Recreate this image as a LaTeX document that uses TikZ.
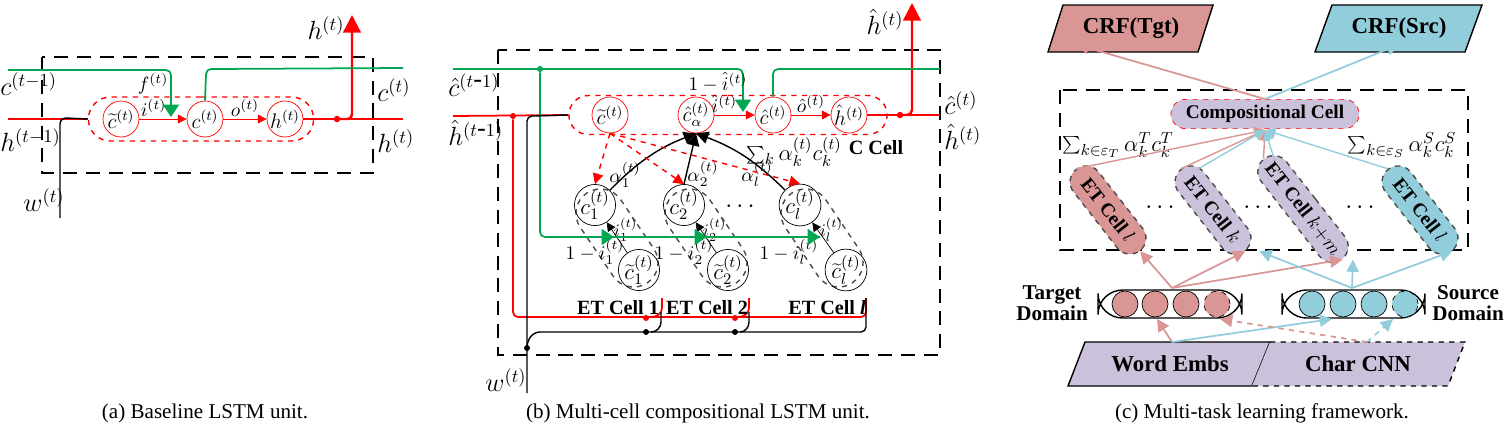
\documentclass[tikz,border=0pt]{standalone}
\usepackage{fontspec}
\setmainfont{Liberation Serif}
\usepackage{fix-cm}
\usetikzlibrary{arrows.meta,shapes.misc,shapes.geometric}
\definecolor{gr}{HTML}{00A651}
\definecolor{salm}{HTML}{D99694}
\definecolor{cya}{HTML}{92CDDC}
\definecolor{lav}{HTML}{CCC1DA}
\begin{document}
\begin{tikzpicture}[x=0.02cm,y=-0.02cm,
  box/.style={black,line width=1.1pt,dash pattern=on 8pt off 5pt},
  rc/.style={circle,draw=red,minimum size=0.72cm,inner sep=0pt,font=\fontsize{12}{13}\selectfont},
  bc/.style={circle,draw=black,minimum size=0.8cm,inner sep=0pt,font=\fontsize{13}{14}\selectfont},
  rl/.style={red,line width=1pt},
  gl/.style={gr,line width=1pt},
  ra/.style={red,-{Triangle[length=5pt,width=5pt]}},
  ga/.style={gr,line width=1pt,-{Triangle[length=7pt,width=9pt]}},
  dot/.style={circle,fill,inner sep=1.3pt},
  pill/.style={rounded rectangle,draw=red,dashed,thick},
  etp/.style={rounded rectangle,draw=black!70,dashed,thick,minimum height=0.98cm},
  lab/.style={font=\fontsize{15}{16}\selectfont},
  sm/.style={font=\fontsize{11}{12}\selectfont},
  captext/.style={font=\fontsize{12}{14}\selectfont},
  bf/.style={font=\bfseries\fontsize{11.5}{12}\selectfont},
  ca/.style={line width=1pt,-{Triangle[length=7pt,width=7pt]}},
  cet/.style={rounded rectangle,draw=black!70,dashed,thick,minimum width=2.3cm,minimum height=0.64cm,rotate=-52,font=\bfseries\fontsize{11}{12}\selectfont},
  ptxt/.style={font=\bfseries\fontsize{13}{14}\selectfont}
]
\useasboundingbox (0,0) rectangle (1504,437);
% ================= (a)
\draw[box] (42,57) rectangle (373,173);
\node[pill,minimum width=4.74cm,minimum height=0.88cm] (pa) at (201,119) {};
\node[rc] (ct) at (121,119) {$\widetilde{c}^{(t)}$};
\node[rc] (cc) at (205,119) {$c^{(t)}$};
\node[rc] (hh) at (285,119) {$h^{(t)}$};
\draw[rl] (8,119) -- (pa.west);
\draw[ra] (ct) -- node[above,black,pos=0.3,inner sep=1pt,sm]{$i^{(t)}$} (cc);
\draw[ra] (cc) -- node[above,black,inner sep=1pt,sm]{$o^{(t)}$} (hh);
\coordinate (ad) at (337,119);
\draw[rl] (hh) -- (403,119);
\node[dot,red] at (ad) {};
\draw[red,line width=1.4pt,-{Triangle[length=10pt,width=10pt]}] (ad) -- (348,119) to[out=0,in=-90] (352,114) -- (352,15);
\node[lab] (ho) at (326,28) {$h^{(t)}$};
\coordinate (ga1) at (171,117);
\draw[ga] (8,70) -- (166,70) to[out=0,in=90] (171,75) -- (ga1);
\draw[gl] (cc.north) -- (206,74) to[out=90,in=180] (211,69) -- (403,68);
\draw[thick] (60,218) -- (60,124) to[out=90,in=180] (66,118) -- (pa.west);
\node[lab,anchor=west,inner sep=0pt] at (0,84) {$c^{(t-1)}$};
\node[lab,anchor=west,inner sep=0pt] at (0,140) {$h^{(t-1)}$};
\node[lab,anchor=west,inner sep=0pt] at (377,90) {$c^{(t)}$};
\node[lab,anchor=west,inner sep=0pt] at (377,141) {$h^{(t)}$};
\node[lab] at (44,200) {$w^{(t)}$};
\node[sm] at (153,84) {$f^{(t)}$};
\node[captext] at (205,413) {(a) Baseline LSTM unit.};
% ================= (b)
\draw[box] (498,50) rectangle (940,355);
\node[pill,minimum width=6.6cm,minimum height=0.78cm] (pb) at (728,115) {};
\node[rc] (bct) at (610,115) {$\widetilde{c}^{(t)}$};
\node[rc] (bca) at (696,115) {$\hat{c}^{(t)}_{\alpha}$};
\node[rc] (bch) at (773,115) {$\hat{c}^{(t)}$};
\node[rc] (bhh) at (849,115) {$\hat{h}^{(t)}$};
\draw[rl] (453,116) -- (pb.west);
\draw[ra] (bca) -- node[above,black,pos=0.25,inner sep=1pt,sm]{$\hat{i}^{(t)}$} (bch);
\draw[ra] (bch) -- node[above,black,inner sep=1pt,sm]{$\hat{o}^{(t)}$} (bhh);
\draw[rl] (bhh) -- (940,115);
\node[dot,red] at (900,115) {};
\draw[red,line width=1.4pt,-{Triangle[length=10pt,width=10pt]}] (900,115) -- (907,115) to[out=0,in=-90] (912,110) -- (912,3);
\node[lab] at (885,22) {$\hat{h}^{(t)}$};
\draw[ga] (453,69) -- (738,69) to[out=0,in=90] (743,74) -- (743,112);
\draw[gl] (bch.north) -- (773,74) to[out=90,in=180] (778,69) -- (940,69);
\node[dot,gr,inner sep=1.2pt] (gd) at (540,69) {};
\node[lab,anchor=west,inner sep=0pt] at (448,85) {$\hat{c}^{(t\mbox{-}1)}$};
\node[lab,anchor=west,inner sep=0pt] at (448,133) {$\hat{h}^{(t\mbox{-}1)}$};
\node[lab,anchor=west,inner sep=0pt] at (944,103) {$\hat{c}^{(t)}$};
\node[lab,anchor=west,inner sep=0pt] at (944,137) {$\hat{h}^{(t)}$};
\node[sm] at (718,82) {$1-\hat{i}^{(t)}$};
\node[font=\fontsize{13}{14}\selectfont] at (794,152) {$\sum_k \alpha^{(t)}_k c^{(t)}_k$};
\node[bf] at (876,148) {C Cell};
% ET cells
\foreach \x in {595,684,800}{
  \node[etp,rotate=-56,minimum width=2.4cm] at (\x+22,238) {};
}
\node[bc] (e1) at (595,205) {$c^{(t)}_1$};
\node[bc] (e2) at (684,205) {$c^{(t)}_2$};
\node[bc] (e3) at (800,205) {$c^{(t)}_l$};
\node[bc] (t1) at (639,270) {$\widetilde{c}^{(t)}_1$};
\node[bc] (t2) at (728,270) {$\widetilde{c}^{(t)}_2$};
\node[bc] (t3) at (846,270) {$\widetilde{c}^{(t)}_l$};
\node[font=\Large] at (740,207) {$\cdots$};
\draw[-{Triangle[length=5pt,width=5pt]}] (t1) -- node[right,inner sep=1pt,pos=0.75]{$i^{(t)}_1$} (e1);
\draw[-{Triangle[length=5pt,width=5pt]}] (t2) -- node[right,inner sep=1pt,pos=0.75]{$i^{(t)}_2$} (e2);
\draw[-{Triangle[length=5pt,width=5pt]}] (t3) -- node[right,inner sep=1pt,pos=0.75]{$i^{(t)}_l$} (e3);
\node[sm] at (595,252) {$1-i^{(t)}_1$};
\node[sm] at (684,252) {$1-i^{(t)}_2$};
\node[sm] at (789,252) {$1-i^{(t)}_l$};
% green to ET
\coordinate (g1) at (614,237);\coordinate (g2) at (707,237);\coordinate (g3) at (820,237);
\draw[gl] (gd) -- (540,232) to[out=-90,in=180] (545,237) -- (g3);
\foreach \g in {g1,g2,g3}{\draw[ga] ([xshift=-8]\g) -- (\g);}
% alpha arrows
\draw[thick,-{Triangle[length=7pt,width=7pt]}] (e1.north east) to[bend left=12] (bca.south);
\draw[thick,-{Triangle[length=7pt,width=7pt]}] (e2.north) -- (bca.south);
\draw[thick,-{Triangle[length=7pt,width=7pt]}] (e3.north west) to[bend right=12] (bca.south);
\node[sm] at (625,175) {$\alpha^{(t)}_1$};
\node[sm] at (703,174) {$\alpha^{(t)}_2$};
\node[sm] at (757,174) {$\alpha^{(t)}_l$};
\draw[red,thick,dashed,-{Triangle[length=6pt,width=6pt]}] (bct.south) -- (e1.north);
\draw[red,thick,dashed,-{Triangle[length=6pt,width=6pt]}] (bct.south) -- (e2.north);
\draw[red,thick,dashed,-{Triangle[length=6pt,width=6pt]}] (bct.south) -- (e3.north);
% red feed
\node[dot,red,inner sep=1.2pt] (rd) at (513,116) {};
\draw[rl] (rd) -- (513,312) to[out=-90,in=180] (518,317) -- (861,317) to[out=0,in=-90] (866,312) -- (866,298);
\draw[rl] (651,317) to[out=0,in=-90] (662,308) -- (662,298);
\draw[rl] (738,317) to[out=0,in=-90] (749,308) -- (749,298);
\node[dot,red,inner sep=1.2pt] at (646,318) {};
\node[dot,red,inner sep=1.2pt] at (735,318) {};
% black input
\draw[thick] (527,393) -- (527,121) to[out=90,in=180] (532,116) -- (pb.west);
\draw[thick] (527,348) to[out=90,in=180] (540,332) -- (861,332) to[out=0,in=-90] (866,327) -- (866,298);
\draw[thick] (651,332) to[out=0,in=-90] (661,322) -- (661,312);
\draw[thick] (740,332) to[out=0,in=-90] (749,322) -- (749,312);
\node[dot,inner sep=1.2pt] at (527,348) {};
\node[dot,inner sep=1.2pt] at (646,332) {};
\node[dot,inner sep=1.2pt] at (735,332) {};
\node[bf] at (618,308) {ET Cell 1};
\node[bf] at (707,308) {ET Cell 2};
\node[bf] at (827,308) {ET Cell \textit{l}};
\node[lab] at (506,380) {$w^{(t)}$};
\node[captext] at (698,413) {(b) Multi-cell compositional LSTM unit.};
% ================= (c)
\draw[thick,fill=salm] (1063,5) -- (1213,5) -- (1198,52) -- (1048,52) -- cycle;
\node[ptxt] (tg) at (1131,28) {CRF(Tgt)};
\draw[thick,fill=cya] (1332,5) -- (1482,5) -- (1465,52) -- (1315,52) -- cycle;
\node[ptxt] (sr) at (1399,28) {CRF(Src)};
\draw[box] (1060,90) rectangle (1468,250);
\node[rounded rectangle,draw=red,dashed,fill=lav,minimum width=4cm,minimum height=0.55cm,font=\bfseries\fontsize{11}{12}\selectfont] (cp) at (1265,114) {Compositional Cell};
\draw[salm,ca] (cp.north) -- (tg.south west);
\draw[cya,ca] (cp.north) -- (sr.south);
\node[font=\fontsize{13}{14}\selectfont] at (1118,145) {$\sum_{k\in\varepsilon_T}\alpha^T_k c^T_k$};
\node[font=\fontsize{13}{14}\selectfont] at (1402,145) {$\sum_{k\in\varepsilon_S}\alpha^S_k c^S_k$};
\node[cet,fill=salm] (x1) at (1108,210) {ET Cell $l$};
\node[cet,fill=lav] (xk) at (1213,210) {ET Cell $k$};
\node[cet,fill=lav] (xm) at (1303,209) {ET Cell $k{+}m$};
\node[cet,fill=cya] (xl) at (1420,210) {ET Cell $l$};
\foreach \x in {1160,1258,1360}{\node[font=\Large] at (\x,208) {$\cdots$};}
\coordinate (cb) at (1265,130);
\draw[salm,thick,-{Triangle[length=6pt,width=6pt]}] (x1.west) -- (cb);
\draw[salm,thick,-{Triangle[length=6pt,width=6pt]}] (xk.west) -- (cb);
\draw[cya,thick,-{Triangle[length=6pt,width=6pt]}] ([xshift=10]xk.west) -- (cb);
\draw[salm,thick,-{Triangle[length=6pt,width=6pt]}] (xm.west) -- (cb);
\draw[cya,thick,-{Triangle[length=6pt,width=6pt]}] ([xshift=6]xm.west) -- (cb);
\draw[cya,thick,-{Triangle[length=6pt,width=6pt]}] (xl.west) -- (cb);
% domains
\draw[thick,rounded corners=14] (1098,290) rectangle (1242,318);
\draw[thick,rounded corners=14] (1282,290) rectangle (1425,318);
\foreach \x/\s in {1125/solid,1155/solid,1186/solid,1217/dashed}{\node[circle,draw,\s,fill=salm,minimum size=0.52cm] at (\x,304) {};}
\foreach \x/\s in {1312/solid,1343/solid,1374/solid,1405/dashed}{\node[circle,draw,\s,fill=cya,minimum size=0.52cm] at (\x,304) {};}
\node[align=center,font=\bfseries\fontsize{12}{12}\selectfont] at (1052,303) {Target\\Domain};
\node[align=center,font=\bfseries\fontsize{12}{12}\selectfont] at (1468,303) {Source\\Domain};
\coordinate (td) at (1172,288);\coordinate (sd) at (1352,288);
\draw[salm,ca] (td) -- (x1.east);
\draw[salm,ca] (td) -- (xk.east);
\draw[salm,ca] (td) -- (xm.east);
\draw[cya,ca] (sd) -- ([xshift=8]xk.east);
\draw[cya,ca] (sd) -- ([xshift=6]xm.east);
\draw[cya,ca] (sd) -- (xl.east);
\draw[thick,fill=lav] (1085,342) -- (1270,342) -- (1252,386) -- (1068,386) -- cycle;
\draw[thick,fill=lav,dashed] (1270,342) -- (1465,342) -- (1448,386) -- (1252,386);
\node[ptxt] (we) at (1170,364) {Word Embs};
\node[ptxt] (cn) at (1358,364) {Char CNN};
\draw[salm,ca] (1172,342) -- (1157,319);
\draw[cya,ca] (1172,342) -- (1332,319);
\draw[salm,ca,dashed] (1367,342) -- (1220,319);
\draw[cya,ca,dashed] (1367,342) -- (1393,319);
\node[captext] at (1262,413) {(c) Multi-task learning framework.};
\end{tikzpicture}
\end{document}
